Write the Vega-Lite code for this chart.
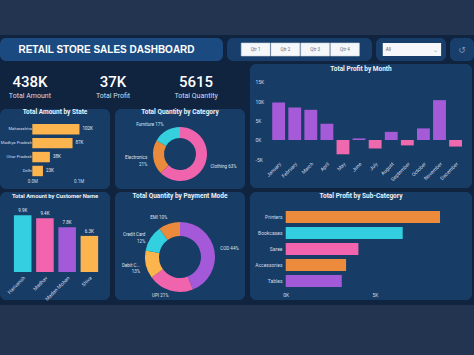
{
  "$schema": "https://vega.github.io/schema/vega-lite/v6.json",
  "background": "#10243f",
  "padding": 0,
  "spacing": 3,
  "resolve": {"scale": {"color": "independent", "theta": "independent"}},
  "config": {
    "font": "Roboto",
    "view": {"fill": "#173c66", "stroke": null, "cornerRadius": 6},
    "axis": {"domain": false, "ticks": false, "tickSize": 0, "minExtent": 0, "grid": false, "labelColor": "#d3dbe6", "labelFontSize": 5, "labelFont": "Roboto", "labelOverlap": false, "labelFlush": false},
    "title": {"color": "#eef2f7", "fontSize": 6.5, "font": "Roboto", "fontWeight": "bold", "baseline": "middle"},
    "text": {"font": "Roboto"}
  },
  "vconcat": [
    {
      "width": 474, "height": 35,
      "view": {"fill": "#22344f", "stroke": null, "cornerRadius": 0},
      "data": {"values": [{}]},
      "mark": {"type": "point", "opacity": 0},
      "encoding": {}
    },
    {
      "spacing": 4,
      "hconcat": [
        {
          "width": 223, "height": 23,
          "view": {"fill": "#1b4a80", "stroke": null, "cornerRadius": 6},
          "data": {"values": [{"t": "RETAIL STORE SALES DASHBOARD"}]},
          "mark": {"type": "text", "color": "#ffffff", "font": "Liberation Sans", "fontWeight": "bold", "fontSize": 10, "dx": -5},
          "encoding": {"text": {"field": "t"}}
        },
        {
          "width": 145, "height": 23,
          "view": {"fill": "#183f6b", "stroke": null, "cornerRadius": 6},
          "data": {"values": [{"q": "Qtr 1", "r": "s"}, {"q": "Qtr 2", "r": "s"}, {"q": "Qtr 3", "r": "s"}, {"q": "Qtr 4", "r": "s"}]},
          "encoding": {
            "x": {"field": "q", "type": "nominal", "axis": null, "scale": {"paddingInner": 0.03, "paddingOuter": 0.45, "align": 0.53}},
            "y": {"field": "r", "type": "nominal", "axis": null, "scale": {"paddingInner": 0, "paddingOuter": 0.38}}
          },
          "layer": [
            {"mark": {"type": "rect", "color": "#f5f7fa", "stroke": "#c5ccd6", "strokeWidth": 0.5}},
            {"mark": {"type": "text", "color": "#6a6f78", "fontSize": 4.5}, "encoding": {"text": {"field": "q"}}}
          ]
        },
        {
          "width": 70, "height": 23,
          "view": {"fill": "#183f6b", "stroke": null, "cornerRadius": 6},
          "data": {"values": [{"d": "All", "r": "s"}]},
          "encoding": {
            "x": {"field": "d", "type": "nominal", "axis": null, "scale": {"paddingInner": 0, "paddingOuter": 0.1, "align": 0.58}},
            "y": {"field": "r", "type": "nominal", "axis": null, "scale": {"paddingInner": 0, "paddingOuter": 0.38}}
          },
          "layer": [
            {"mark": {"type": "rect", "color": "#f5f7fa"}},
            {"mark": {"type": "text", "align": "left", "dx": 3, "fontSize": 4.5, "color": "#555a62"}, "encoding": {"x": {"field": "d", "type": "nominal", "bandPosition": 0}, "text": {"field": "d"}}},
            {"mark": {"type": "text", "align": "right", "dx": -3, "fontSize": 6, "color": "#9aa2ad", "font": "DejaVu Sans"}, "encoding": {"x": {"field": "d", "type": "nominal", "bandPosition": 1}, "text": {"value": "⌄"}}}
          ]
        },
        {
          "width": 24, "height": 23,
          "view": {"fill": "#183f6b", "stroke": null, "cornerRadius": 6},
          "data": {"values": [{"i": "↺"}]},
          "mark": {"type": "text", "fontSize": 9, "color": "#7f95b5", "font": "DejaVu Sans"},
          "encoding": {"text": {"field": "i"}}
        }
      ]
    },
    {
      "spacing": 5,
      "resolve": {"scale": {"color": "independent", "theta": "independent"}},
      "hconcat": [
        {
          "spacing": 3,
          "resolve": {"scale": {"color": "independent", "theta": "independent"}},
          "vconcat": [
            {
              "width": 226, "height": 41,
              "view": {"fill": null, "stroke": null},
              "data": {"values": [{"kpi": "Total Amount", "value": "438K"}, {"kpi": "Total Profit", "value": "37K"}, {"kpi": "Total Quantity", "value": "5615"}]},
              "encoding": {"x": {"field": "kpi", "type": "nominal", "sort": null, "axis": null, "scale": {"type": "point", "padding": 0.36}}},
              "layer": [
                {"mark": {"type": "text", "fontSize": 15, "fontWeight": 500, "color": "#ffffff", "baseline": "alphabetic", "dy": 2}, "encoding": {"text": {"field": "value"}}},
                {"mark": {"type": "text", "fontSize": 7, "color": "#d5dde8", "baseline": "middle", "dy": 11}, "encoding": {"text": {"field": "kpi"}}}
              ]
            },
            {
              "spacing": 5,
              "resolve": {"scale": {"color": "independent", "theta": "independent"}},
              "hconcat": [
                {
                  "width": 110, "height": 80,
                  "title": {"text": "Total Amount by State", "offset": -6},
                  "data": {"values": [
                    {"state": "Maharashtra", "amount": 102000, "label": "102K"},
                    {"state": "Madhya Pradesh", "amount": 87000, "label": "87K"},
                    {"state": "Uttar Pradesh", "amount": 38000, "label": "38K"},
                    {"state": "Delhi", "amount": 23000, "label": "23K"}
                  ]},
                  "encoding": {
                    "y": {"field": "state", "type": "nominal", "sort": null, "scale": {"paddingInner": 0.25, "paddingOuter": 1.64, "align": 0.54}, "axis": {"title": null, "offset": -33, "labelPadding": 1.5, "labelFontSize": 4.2}},
                    "x": {"field": "amount", "type": "quantitative", "scale": {"domain": [-69900, 168000], "nice": false}, "axis": {"title": null, "values": [0, 100000], "labelExpr": "format(datum.value/1000000, '.1f') + 'M'", "offset": -11, "labelPadding": 0, "labelFontSize": 4.5}}
                  },
                  "layer": [
                    {"mark": {"type": "bar", "color": "#fbb44e"}},
                    {"mark": {"type": "text", "align": "left", "dx": 3, "fontSize": 4.5, "color": "#e6ebf2"}, "encoding": {"text": {"field": "label"}}}
                  ]
                },
                {
                  "width": 130, "height": 80,
                  "title": {"text": "Total Quantity by Category", "offset": -6},
                  "data": {"values": [
                    {"cat": "Clothing", "qty": 3516, "label": "Clothing 63%"},
                    {"cat": "Electronics", "qty": 1163, "label": ["Electronics", "21%"]},
                    {"cat": "Furniture", "qty": 936, "label": "Furniture 17%"}
                  ]},
                  "encoding": {
                    "theta": {"field": "qty", "type": "quantitative", "stack": true},
                    "order": {"field": "qty", "sort": "descending"},
                    "y": {"datum": 0, "type": "quantitative", "scale": {"domain": [-35, 45], "nice": false, "zero": false}, "axis": null}
                  },
                  "layer": [
                    {"mark": {"type": "arc", "innerRadius": 16, "outerRadius": 27},
                     "encoding": {"color": {"field": "cat", "type": "nominal", "scale": {"domain": ["Clothing", "Electronics", "Furniture"], "range": ["#f064ae", "#e98a3c", "#35d0de"]}, "legend": null}}},
                    {"mark": {"type": "text", "radius": 33, "fontSize": 4.5, "color": "#dfe6ef", "align": {"expr": "datum.cat === 'Clothing' ? 'left' : 'right'"}},
                     "encoding": {"text": {"field": "label"}}}
                  ]
                }
              ]
            }
          ]
        },
        {
          "width": 222, "height": 124,
          "title": {"text": "Total Profit by Month", "offset": -8},
          "data": {"values": [
            {"month": "January", "profit": 9700},
            {"month": "February", "profit": 8400},
            {"month": "March", "profit": 7800},
            {"month": "April", "profit": 4200},
            {"month": "May", "profit": -3700},
            {"month": "June", "profit": 400},
            {"month": "July", "profit": -2200},
            {"month": "August", "profit": 2100},
            {"month": "September", "profit": -1400},
            {"month": "October", "profit": 3000},
            {"month": "November", "profit": 10300},
            {"month": "December", "profit": -1700}
          ]},
          "mark": {"type": "bar"},
          "encoding": {
            "x": {"field": "month", "type": "ordinal", "sort": null, "scale": {"paddingInner": 0.2, "paddingOuter": 1.02, "align": 0.69}, "axis": {"title": null, "offset": -28, "labelAngle": -45, "labelPadding": 1, "labelFontSize": 5}},
            "y": {"field": "profit", "type": "quantitative", "scale": {"domain": [-12420, 19650], "nice": false}, "axis": {"title": null, "values": [-5000, 0, 5000, 10000, 15000], "labelExpr": "datum.value/1000 + 'K'", "offset": -5, "labelAlign": "left", "labelPadding": 0, "labelFontSize": 5}},
            "color": {"condition": {"test": "datum.profit < 0", "value": "#ef69ae"}, "value": "#a55ad7"}
          }
        }
      ]
    },
    {
      "spacing": 5,
      "resolve": {"scale": {"color": "independent", "theta": "independent"}},
      "hconcat": [
        {
          "width": 110, "height": 108,
          "title": {"text": "Total Amount by Customer Name", "offset": -7, "fontSize": 5.8},
          "data": {"values": [
            {"name": "Harivansh", "amount": 9900, "label": "9.9K"},
            {"name": "Madhav", "amount": 9400, "label": "9.4K"},
            {"name": "Madan Mohan", "amount": 7800, "label": "7.8K"},
            {"name": "Shiva", "amount": 6300, "label": "6.3K"}
          ]},
          "encoding": {
            "x": {"field": "name", "type": "nominal", "sort": null, "scale": {"paddingInner": 0.21, "paddingOuter": 0.58, "align": 0.54}, "axis": {"title": null, "offset": -26, "labelAngle": -45, "labelPadding": 1, "labelFontSize": 5}},
            "y": {"field": "amount", "type": "quantitative", "scale": {"domain": [-4890, 13960], "nice": false}, "axis": null}
          },
          "layer": [
            {"mark": {"type": "bar"}, "encoding": {"color": {"field": "name", "type": "nominal", "sort": null, "scale": {"domain": ["Harivansh", "Madhav", "Madan Mohan", "Shiva"], "range": ["#34cfe0", "#f264ad", "#a35ad8", "#fbb44e"]}, "legend": null}}},
            {"mark": {"type": "text", "baseline": "bottom", "dy": -2, "fontSize": 4.5, "color": "#e6ebf2"}, "encoding": {"text": {"field": "label"}}}
          ]
        },
        {
          "width": 130, "height": 108,
          "title": {"text": "Total Quantity by Payment Mode", "offset": -7},
          "data": {"values": [
            {"mode": "COD", "qty": 2471, "label": "COD 44%"},
            {"mode": "UPI", "qty": 1179, "label": "UPI 21%"},
            {"mode": "Debit Card", "qty": 730, "label": ["Debit C...", "13%"]},
            {"mode": "Credit Card", "qty": 674, "label": ["Credit Card", "12%"]},
            {"mode": "EMI", "qty": 561, "label": "EMI 10%"}
          ]},
          "encoding": {
            "theta": {"field": "qty", "type": "quantitative", "stack": true},
            "order": {"field": "qty", "sort": "descending"},
            "y": {"datum": 0, "type": "quantitative", "scale": {"domain": [-43, 65], "nice": false, "zero": false}, "axis": null}
          },
          "layer": [
            {"mark": {"type": "arc", "innerRadius": 21, "outerRadius": 35},
             "encoding": {"color": {"field": "mode", "type": "nominal", "scale": {"domain": ["COD", "UPI", "Debit Card", "Credit Card", "EMI"], "range": ["#a459d8", "#f064ae", "#fcb54d", "#33d0e0", "#e98a3c"]}, "legend": null}}},
            {"mark": {"type": "text", "radius": 41, "fontSize": 4.5, "color": "#dfe6ef", "align": {"expr": "datum.mode === 'COD' ? 'left' : 'right'"}},
             "encoding": {"text": {"field": "label"}}}
          ]
        },
        {
          "width": 222, "height": 108,
          "title": {"text": "Total Profit by Sub-Category", "offset": -7},
          "data": {"values": [
            {"sub": "Printers", "profit": 8640},
            {"sub": "Bookcases", "profit": 6550},
            {"sub": "Saree", "profit": 4070},
            {"sub": "Accessories", "profit": 3380},
            {"sub": "Tables", "profit": 3140}
          ]},
          "mark": {"type": "bar"},
          "encoding": {
            "y": {"field": "sub", "type": "nominal", "sort": null, "scale": {"paddingInner": 0.25, "paddingOuter": 1.34, "align": 0.59}, "axis": {"title": null, "offset": -34, "labelPadding": 2, "labelFontSize": 5}},
            "x": {"field": "profit", "type": "quantitative", "scale": {"domain": [-2000, 10430], "nice": false}, "axis": {"title": null, "values": [0, 5000], "labelExpr": "datum.value/1000 + 'K'", "offset": -8, "labelPadding": 0.5, "labelFontSize": 5}},
            "color": {"field": "sub", "type": "nominal", "sort": null, "scale": {"domain": ["Printers", "Bookcases", "Saree", "Accessories", "Tables"], "range": ["#eb8b3b", "#33cfe0", "#f264ad", "#eb8b3b", "#a35ad8"]}, "legend": null}
          }
        }
      ]
    },
    {
      "width": 474, "height": 60,
      "view": {"fill": "#22344f", "stroke": null, "cornerRadius": 0},
      "data": {"values": [{}]},
      "mark": {"type": "point", "opacity": 0},
      "encoding": {}
    }
  ]
}
